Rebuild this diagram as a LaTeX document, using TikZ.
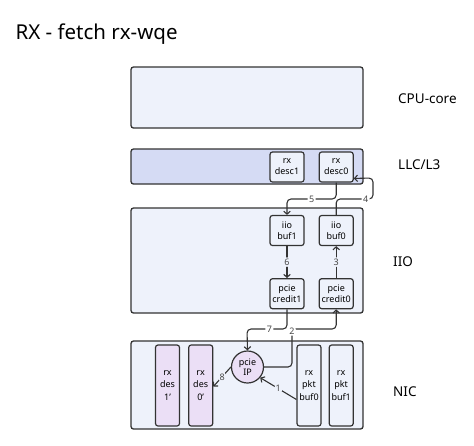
\documentclass[tikz,border=0pt]{standalone}
\usepackage{fontspec}
\setmainfont{Noto Sans}
\usetikzlibrary{positioning,arrows.meta}
\definecolor{edgegray}{HTML}{333333}
\definecolor{paleblue}{HTML}{EEF2FB}
\definecolor{cachblue}{HTML}{D5DBF4}
\definecolor{lavender}{HTML}{EBDFF6}
\definecolor{numgray}{HTML}{484848}
\begin{document}
\begin{tikzpicture}
[
x=1pt, y=-1pt,
>={Straight Barb[length=3pt,width=6.5pt]},
layer/.style={rectangle, rounded corners=2.5pt, draw=edgegray, line width=1.3pt, fill=paleblue, minimum width=232pt, inner sep=0pt},
cell/.style={rectangle, rounded corners=2.5pt, draw=edgegray, line width=1.2pt, fill=paleblue, minimum width=34pt, minimum height=30pt, inner sep=0pt, align=center, font=\fontsize{9}{11}\selectfont},
tallcell/.style={cell, minimum width=24pt, minimum height=81pt, font=\fontsize{9}{12.5}\selectfont},
port/.style={circle, draw=edgegray, line width=1.2pt, fill=lavender, minimum size=32pt, inner sep=0pt, align=center, font=\fontsize{9}{10.5}\selectfont},
tag/.style={font=\fontsize{13.5}{16}\selectfont},
num/.style={fill=white, inner sep=1.5pt, font=\fontsize{9}{10}\selectfont, text=numgray},
link/.style={draw=edgegray, line width=1.1pt, rounded corners=4pt, ->}
]
\useasboundingbox (0,0) rectangle (474,445);

%Title
\node[anchor=base west, font=\fontsize{20.5}{24}\selectfont] (title) at (12,39) {RX - fetch rx-wqe};

%Layers
\node[layer, minimum height=61pt]                (cpu) at (247,97.5)  {};
\node[layer, fill=cachblue, minimum height=35pt] (llc) at (247,166.5) {};
\node[layer, minimum height=105pt]               (iio) at (247,260.5) {};
\node[layer, minimum height=88pt]                (nic) at (247,385)   {};

\node[tag]  (cpu_tag)  [right=31pt of cpu, yshift=-1pt]  {CPU-core};
\node[tag]  (llc_tag)  [right=31pt of llc, yshift=2pt]   {LLC/L3};
\node[tag]  (iio_tag)  [right=26pt of iio, yshift=-1pt]  {IIO};
\node[tag]  (nic_tag)  [right=26pt of nic, yshift=-7pt]  {NIC};

%Cells
\node[cell]     (desc1)   at (287,167)           {rx\\desc1};
\node[cell]     (desc0)   [right=14pt of desc1]  {rx\\desc0};
\node[cell]     (buf1)    at (287,230.5)         {iio\\buf1};
\node[cell]     (buf0)    [right=14pt of buf1]   {iio\\buf0};
\node[cell]     (credit1) [below=32pt of buf1]   {pcie\\credit1};
\node[cell]     (credit0) [right=14pt of credit1] {pcie\\credit0};

\node[tallcell, fill=lavender] (des1) at (167.5,385.5)    {rx\\des\\1'};
\node[tallcell, fill=lavender] (des0) [right=8pt of des1] {rx\\des\\0'};
\node[tallcell] (pkt0) at (309,385.5)          {rx\\pkt\\buf0};
\node[tallcell] (pkt1) [right=7pt of pkt0]     {rx\\pkt\\buf1};
\node[port]     (ip)   at (247.5,367)          {pcie\\IP};

\coordinate (c5)  at (287,199);
\coordinate (c4a) at (373,199);
\coordinate (c4b) at (373,178);
\coordinate (c7)  at (247,329);
\coordinate (c2)  at (292,329);

%Lines
\draw[link] (pkt0.228) -- node[num, fill=paleblue] {1} (ip.-40);
\draw[link] (ip.east) -| node[num, pos=1, yshift=-2pt] {2} (c2) -| (credit0.south);
\path[link]
(credit0) edge node[num, fill=paleblue] {3} (buf0)
(buf1)    edge node[num, fill=paleblue] {6} (credit1);
\draw[link] (buf0.north) |- node[num, pos=0.9] {4} (c4a) -- (c4b) -- (desc0.-33);
\draw[link] (desc0.south) |- node[num, pos=0.75] {5} (c5) -- (buf1.north);
\draw[link] (credit1.south) |- node[num, pos=0.72] {7} (c7) -- (ip.north);
\draw[link] (ip.west) -- node[num, fill=paleblue] {8} (des0.-5);
\end{tikzpicture}
\end{document}
